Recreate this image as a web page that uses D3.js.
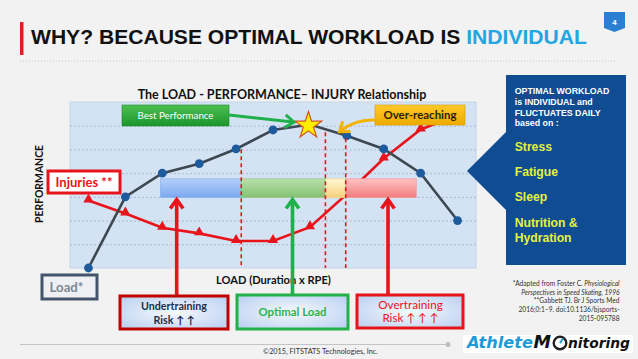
<!DOCTYPE html>
<html><head><meta charset="utf-8">
<script src="https://cdn.jsdelivr.net/npm/d3@7"></script>
<style>
html,body{margin:0;padding:0;background:#f2f2f2;}
svg{display:block;}
</style></head><body>
<svg id="c" width="638" height="359"></svg>
<script>
// ---------------- data ----------------
const loadSteps   = [0,1,2,3,4,5,6,7,8,9,10];
const performance = [0, 3.0, 4.0, 4.4, 5.02, 5.82, 6.05, 5.58, 5.02, 4.0, 2.0];
const injuries    = [2.85, 2.3, 1.7, 1.46, 1.14, 1.14, 1.72, 3.12, 4.62, 5.84, 6.45];
const peakIndex   = 6;
const gridTicks   = [1,2,3,4,5,6];
const zoneNames   = ["Undertraining","Optimal","Over-reaching","Overtraining"];
const zoneStart   = [1.95, 4.14, 6.42, 6.97];
const zoneEnd     = [4.14, 6.42, 6.97, 8.88];
const zoneBand    = [2.97, 3.76];
const boundaries  = [4.14, 6.42, 6.97];
const panelLines  = ["OPTIMAL WORKLOAD","is INDIVIDUAL and","FLUCTUATES DAILY","based on :"];
const factors     = ["Stress","Fatigue","Sleep","Nutrition &","Hydration"];

// ---------------- setup ----------------
const svg = d3.select("#c");
const W = 638, H = 359;
const P = {l:70, r:476, t:102, b:268};
const x = d3.scaleLinear().domain([-0.5,10.5]).range([P.l,P.r]);
const y = d3.scaleLinear().domain([0,7]).range([P.b,P.t]);
const CAL = "Lato, 'Open Sans', sans-serif";
const ARI = "'Liberation Sans', Arial, sans-serif";

function fit(sel, w){
  const n = sel.node(); const L = n.getComputedTextLength();
  const fs = parseFloat(sel.attr("font-size"));
  if (L>0 && fs>0) sel.attr("font-size", (fs*w/L).toFixed(2));
  return sel;
}

const defs = svg.append("defs");
function vgrad(id, c1, c2){
  const g = defs.append("linearGradient").attr("id",id).attr("x1",0).attr("y1",0).attr("x2",0).attr("y2",1);
  g.append("stop").attr("offset","0%").attr("stop-color",c1);
  g.append("stop").attr("offset","100%").attr("stop-color",c2);
}
vgrad("gBlue","#b3d0fb","#7aa9ee");
vgrad("gGreen","#b9dfaa","#84c172");
vgrad("gCream","#fff8d8","#f8cf78");
vgrad("gRed","#ffc4c4","#f27c7c");
vgrad("gBest","#4dbf4f","#1c962c");
vgrad("gOver","#ffc928","#eeaa00");
const rg = defs.append("radialGradient").attr("id","gBox").attr("cx","50%").attr("cy","50%").attr("r","70%");
rg.append("stop").attr("offset","0%").attr("stop-color","#f6f9fe");
rg.append("stop").attr("offset","100%").attr("stop-color","#b7cef0");

svg.append("rect").attr("width",W).attr("height",H).attr("fill","#f2f2f2");

// ---------------- header ----------------
svg.append("rect").attr("x",20).attr("y",22).attr("width",3.5).attr("height",33).attr("fill","#e31b23");
const ht = svg.append("text").attr("x",31).attr("y",43.5).attr("font-family",ARI).attr("font-weight","bold")
  .attr("font-size",21).attr("fill","#111");
ht.append("tspan").text("WHY? BECAUSE OPTIMAL WORKLOAD IS ");
ht.append("tspan").attr("fill","#22a7e0").text("INDIVIDUAL");
fit(ht, 556);
svg.append("line").attr("x1",20).attr("x2",615).attr("y1",61).attr("y2",61)
  .attr("stroke","#c9c9c9").attr("stroke-width",1).attr("stroke-dasharray","1,2");
svg.append("path").attr("d","M604,12 H625 V28 L614.5,32 L604,28 Z").attr("fill","#2b7fd3");
svg.append("text").attr("x",614.5).attr("y",25).attr("text-anchor","middle").attr("font-family",ARI)
  .attr("font-weight","bold").attr("font-size",8).attr("fill","#fff").text("4");

// ---------------- plot area ----------------
svg.append("rect").attr("x",P.l).attr("y",P.t).attr("width",P.r-P.l).attr("height",P.b-P.t)
  .attr("fill","#d4e3f4").attr("stroke","#c3d3e8").attr("stroke-width",1);
const grid = svg.append("g").attr("transform",`translate(${P.l},0)`)
  .call(d3.axisLeft(y).tickValues(gridTicks).tickSize(-(P.r-P.l)).tickFormat(""));
grid.select(".domain").remove();
grid.selectAll("line").attr("stroke","#9fb0c6").attr("stroke-dasharray","2,2").attr("stroke-width",0.8);

svg.append("text").attr("x",282).attr("y",99).attr("text-anchor","middle").attr("font-family",CAL)
  .attr("font-weight","bold").attr("font-size",13).attr("fill","#111")
  .text("The LOAD - PERFORMANCE\u2013 INJURY Relationship").call(s=>fit(s,289));

// injury line
const line = d3.line().x((d,i)=>x(loadSteps[i])).y(d=>y(d));
svg.append("path").datum(injuries).attr("d",line).attr("fill","none")
  .attr("stroke","#e8141c").attr("stroke-width",2.6);
svg.selectAll(".tri").data(injuries).join("path").attr("class","tri")
  .attr("d",d3.symbol(d3.symbolTriangle,46)())
  .attr("transform",(d,i)=>`translate(${x(loadSteps[i])},${y(d)-1})`).attr("fill","#e8141c");

// performance line
svg.append("path").datum(performance).attr("d",line).attr("fill","none")
  .attr("stroke","#3e4850").attr("stroke-width",2.6);
svg.selectAll(".dot").data(loadSteps.filter(i=>i!==peakIndex)).join("circle").attr("class","dot")
  .attr("cx",i=>x(i)).attr("cy",i=>y(performance[i])).attr("r",4.4)
  .attr("fill","#1d5b9d");

// zone band
const fills = ["url(#gBlue)","url(#gGreen)","url(#gCream)","url(#gRed)"];
const strokes = ["#8fb3ea","#9cc98c","#efd48f","#f29a9a"];
svg.selectAll(".zone").data(zoneNames).join("rect").attr("class","zone")
  .attr("x",(d,i)=>x(zoneStart[i])).attr("width",(d,i)=>x(zoneEnd[i])-x(zoneStart[i]))
  .attr("y",y(zoneBand[1])).attr("height",y(zoneBand[0])-y(zoneBand[1]))
  .attr("fill",(d,i)=>fills[i]).attr("stroke",(d,i)=>strokes[i]).attr("stroke-width",0.8);

// dashed boundaries
const perfAt = v => { const i=Math.floor(v), f=v-i; return performance[i]+(performance[i+1]-performance[i])*f; };
svg.selectAll(".bnd").data(boundaries).join("line").attr("class","bnd")
  .attr("x1",d=>x(d)).attr("x2",d=>x(d)).attr("y1",d=>y(perfAt(d))+3).attr("y2",P.b)
  .attr("stroke","#e8141c").attr("stroke-width",1.6).attr("stroke-dasharray","4,3");

// star at peak
svg.append("path").attr("d",d3.symbol(d3.symbolStar, 14*14/0.8908130915292852)())
  .attr("transform",`translate(${x(loadSteps[peakIndex])-1.5},${y(performance[peakIndex])+1})`)
  .attr("fill","#ffee00").attr("stroke","#d2541a").attr("stroke-width",1.2);

// ---------------- annotations ----------------
function chevron(tx,ty,ang,len,color,w){
  const a1 = ang+Math.PI-0.62, a2 = ang+Math.PI+0.62;
  svg.append("path").attr("d",`M${tx+len*Math.cos(a1)},${ty+len*Math.sin(a1)} L${tx},${ty} L${tx+len*Math.cos(a2)},${ty+len*Math.sin(a2)}`)
    .attr("fill","none").attr("stroke",color).attr("stroke-width",w).attr("stroke-linejoin","miter").attr("stroke-linecap","butt");
}
// Best Performance
svg.append("rect").attr("x",122).attr("y",105).attr("width",107).attr("height",21).attr("fill","url(#gBest)")
  .attr("stroke","#1a8a2a").attr("stroke-width",0.6);
svg.append("text").attr("x",175.5).attr("y",118.8).attr("text-anchor","middle").attr("font-family",CAL)
  .attr("font-size",10).attr("fill","#fff").text("Best Performance").call(s=>fit(s,76));
svg.append("line").attr("x1",229).attr("y1",115).attr("x2",293).attr("y2",122)
  .attr("stroke","#1fb04c").attr("stroke-width",3);
chevron(294,122.2,Math.atan2(7,64),11,"#1fb04c",3);

// Over-reaching
svg.append("rect").attr("x",375).attr("y",105).attr("width",90).attr("height",20).attr("fill","url(#gOver)")
  .attr("stroke","#d89a00").attr("stroke-width",0.6);
svg.append("text").attr("x",420).attr("y",118.5).attr("text-anchor","middle").attr("font-family",CAL)
  .attr("font-weight","bold").attr("font-size",10).attr("fill","#2a2200").text("Over-reaching").call(s=>fit(s,73));
svg.append("path").attr("d","M375,120 Q356,119 341,130.5").attr("fill","none")
  .attr("stroke","#f3b300").attr("stroke-width",3);
chevron(339.5,131.8,Math.atan2(11.5,-15),11,"#f3b300",3);

// Injuries box
svg.append("rect").attr("x",48).attr("y",171).attr("width",72).attr("height",22).attr("fill","#fff")
  .attr("stroke","#e8141c").attr("stroke-width",3);
svg.append("text").attr("x",84).attr("y",186.5).attr("text-anchor","middle").attr("font-family",CAL)
  .attr("font-weight","bold").attr("font-size",11).attr("fill","#e8141c").text("Injuries **").call(s=>fit(s,57));

// PERFORMANCE axis label
svg.append("text").attr("transform","translate(42.5,184) rotate(-90)").attr("text-anchor","middle")
  .attr("font-family",CAL).attr("font-weight","bold").attr("font-size",10).attr("fill","#111")
  .text("PERFORMANCE").call(s=>fit(s,78));

// Load* box
svg.append("rect").attr("x",42).attr("y",275).attr("width",55).attr("height",24).attr("fill","#eef0f3")
  .attr("stroke","#44546a").attr("stroke-width",3);
svg.append("text").attr("x",66.5).attr("y",291.5).attr("text-anchor","middle").attr("font-family",CAL)
  .attr("font-weight","bold").attr("font-size",11).attr("fill","#7d8994").text("Load*").call(s=>fit(s,34));

// x label
svg.append("text").attr("x",273.5).attr("y",284).attr("text-anchor","middle").attr("font-family",CAL)
  .attr("font-weight","bold").attr("font-size",11).attr("fill","#111").text("LOAD (Duration x RPE)").call(s=>fit(s,115));

// vertical arrows
function vArrow(ax, y0, tip, color){
  svg.append("line").attr("x1",ax).attr("x2",ax).attr("y1",y0).attr("y2",tip+1.5)
    .attr("stroke",color).attr("stroke-width",3.6);
  chevron(ax,tip,-Math.PI/2,11,color,3.6);
}
vArrow(176.7,296,199.5,"#e8141c");
vArrow(292.5,296,199.5,"#1fb04c");
vArrow(388,296,199.5,"#e8141c");

// bottom boxes
svg.append("rect").attr("x",120).attr("y",296).attr("width",108).attr("height",33).attr("fill","url(#gBox)")
  .attr("stroke","#c00000").attr("stroke-width",3);
const ut = svg.append("text").attr("x",174).attr("y",310).attr("text-anchor","middle").attr("font-family",CAL)
  .attr("font-weight","bold").attr("font-size",10).attr("fill","#1f2d4a").text("Undertraining").call(s=>fit(s,66));
svg.append("text").attr("x",174).attr("y",324.3).attr("text-anchor","middle").attr("font-family",CAL)
  .attr("font-weight","bold").attr("font-size",ut.attr("font-size")).attr("fill","#1f2d4a").text("Risk \u2191 \u2191");

svg.append("rect").attr("x",237).attr("y",295).attr("width",111).attr("height",34).attr("fill","url(#gBox)")
  .attr("stroke","#22b04a").attr("stroke-width",3);
svg.append("text").attr("x",292.5).attr("y",315.5).attr("text-anchor","middle").attr("font-family",CAL)
  .attr("font-weight","bold").attr("font-size",11).attr("fill","#2cb34a").text("Optimal Load").call(s=>fit(s,68));

svg.append("rect").attr("x",357).attr("y",295).attr("width",106).attr("height",33).attr("fill","url(#gBox)")
  .attr("stroke","#e8141c").attr("stroke-width",3);
const ot = svg.append("text").attr("x",410.5).attr("y",309.3).attr("text-anchor","middle").attr("font-family",CAL)
  .attr("font-size",10.5).attr("fill","#e8141c").text("Overtraining").call(s=>fit(s,64.5));
svg.append("text").attr("x",410.5).attr("y",322).attr("text-anchor","middle").attr("font-family",CAL)
  .attr("font-size",ot.attr("font-size")).attr("fill","#e8141c").text("Risk \u2191 \u2191 \u2191");

// ---------------- right panel ----------------
svg.append("path").attr("d","M506,75 H626 V265 H506 V210 L467,171 L506,132 Z").attr("fill","#0f4c92");
const pl = svg.append("g").attr("font-family",ARI).attr("font-weight","bold").attr("fill","#fff");
const plBase = [94,105,115.7,125.7];
const pt = pl.selectAll("text").data(panelLines).join("text").attr("x",514.7).attr("y",(d,i)=>plBase[i])
  .attr("font-size",8.5).text(d=>d);
fit(d3.select(pt.nodes()[0]),94.7); pt.attr("font-size", d3.select(pt.nodes()[0]).attr("font-size"));
const fBase = [150.7,175.7,201,226.7,241.7];
const ft = svg.append("g").attr("font-family",ARI).attr("font-weight","bold").attr("fill","#e4f23e")
  .selectAll("text").data(factors).join("text").attr("x",514.7).attr("y",(d,i)=>fBase[i])
  .attr("font-size",12).text(d=>d);
fit(d3.select(ft.nodes()[0]),37.3); ft.attr("font-size", d3.select(ft.nodes()[0]).attr("font-size"));

// footnotes
const fn = svg.append("g").attr("font-family",CAL).attr("font-size",6.8).attr("fill","#333").attr("text-anchor","end");
const f1 = fn.append("text").attr("x",619.5).attr("y",285.7);
f1.append("tspan").text("*Adapted from Foster C. ");
f1.append("tspan").attr("font-style","italic").text("Physiological");
fn.append("text").attr("x",619.5).attr("y",294.5).attr("font-style","italic").text("Perspectives in Speed Skating, 1996");
fn.append("text").attr("x",619.5).attr("y",303.3).text("**Gabbett TJ. Br J Sports Med");
fn.append("text").attr("x",619.5).attr("y",312).text("2016;0:1\u20139. doi:10.1136/bjsports-");
fn.append("text").attr("x",619.5).attr("y",321).text("2015-095788");
{ const L = f1.node().getComputedTextLength(); fn.attr("font-size",(6.8*106.7/L).toFixed(2)); }

// bottom line + copyright
svg.append("line").attr("x1",20).attr("x2",448).attr("y1",344.5).attr("y2",344.5).attr("stroke","#c4c4c4").attr("stroke-width",1);
svg.append("circle").attr("cx",448).attr("cy",344.5).attr("r",2.5).attr("fill","#bdbdbd");
svg.append("text").attr("x",320.5).attr("y",354).attr("text-anchor","middle").attr("font-family",CAL)
  .attr("font-size",8).attr("fill","#333").text("\u00a92015, FITSTATS Technologies, Inc.").call(s=>fit(s,115));

// logo
svg.append("rect").attr("x",463).attr("y",335).attr("width",170).attr("height",18).attr("fill","#fff");
const LOGO = "'DejaVu Sans', 'Liberation Sans', sans-serif";
function logoText(tx, txt, color, w){
  svg.append("text").attr("x",tx).attr("y",347.5).attr("font-family",LOGO).attr("font-weight","bold")
    .attr("font-style","italic").attr("font-size",14).attr("fill",color).text(txt).call(s=>fit(s,w));
}
logoText(467,"Athlete","#1e9ad6",66);
logoText(533.5,"M","#111",17.5);
svg.append("circle").attr("cx",560).attr("cy",343).attr("r",6.3).attr("fill","#fff").attr("stroke","#222").attr("stroke-width",2.4);
svg.append("line").attr("x1",560).attr("y1",343).attr("x2",563).attr("y2",338.5).attr("stroke","#1e9ad6").attr("stroke-width",2);
logoText(568,"nitoring","#111",62);
</script>
</body></html>
